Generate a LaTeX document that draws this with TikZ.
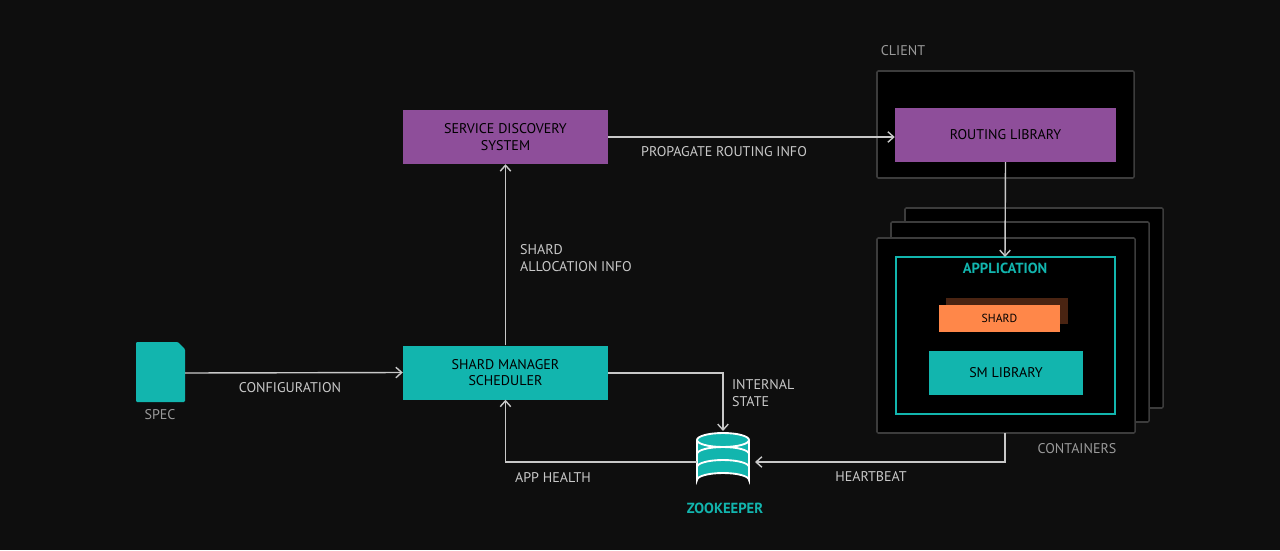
\documentclass[tikz,border=0pt]{standalone}
\usepackage{fontspec}
\setmainfont{PT Sans}
\usetikzlibrary{positioning,arrows.meta}
\definecolor{bgc}{HTML}{0E0E0E}
\definecolor{purp}{HTML}{8E4E9A}
\definecolor{teal}{HTML}{12B5AE}
\definecolor{orng}{HTML}{FF8749}
\definecolor{brwn}{HTML}{4A2412}
\definecolor{wire}{HTML}{C8C8C8}
\definecolor{frame}{HTML}{3C3C3C}
\definecolor{lbl}{HTML}{9A9A9A}

\tikzset{
  box/.style = {shape = rectangle, minimum width = 205*0.03cm, minimum height = 54*0.03cm, align = center, font = \fontsize{12}{14}\selectfont, text = black},
  frm/.style = {draw = frame, line width = 1.3pt, fill = black, rounded corners = 1pt},
  txt/.style = {text = wire, font = \fontsize{12}{14}\selectfont, align = left},
  link/.style = {draw = wire, line width = 1.2pt, -{Straight Barb[length=5pt,width=9pt]}}
}

\begin{document}
\begin{tikzpicture}[x = 0.03cm, y = -0.03cm]
\fill[bgc] (0,0) rectangle (1280,550);
\useasboundingbox (0,0) rectangle (1280,550);
% client and containers
\draw[frm] (877,71) rectangle (1134,178);
\draw[frm] (905,208) rectangle (1163,408);
\draw[frm] (891,222) rectangle (1149,422);
\draw[frm] (877,238) rectangle (1135,433);
\draw[teal, line width = 1.5pt] (896,257) rectangle (1115,414);
\fill[brwn] (946,298) rectangle (1068,324);
\node[box, fill = orng, minimum width = 121*0.03cm, minimum height = 27*0.03cm, font = \fontsize{10}{12}\selectfont] (shard) at (999.5,318.5) {SHARD};
\node[box, fill = teal, minimum width = 154*0.03cm, minimum height = 44*0.03cm] (smlib) at (1006,373) {SM LIBRARY};
\node[text = teal, font = \fontsize{12.5}{14}\selectfont\bfseries] (app) at (1005,268) {APPLICATION};
\coordinate (apptop) at (1005,257);
\coordinate (contbot) at (1005,433);
\node[text = lbl, font = \fontsize{12}{14}\selectfont] (client) at (903,51) {CLIENT};
\node[text = lbl, font = \fontsize{12}{14}\selectfont] (cont) at (1077,449) {CONTAINERS};
% main boxes
\node[box, fill = purp] (sds) at (505.5,137) {SERVICE DISCOVERY\\SYSTEM};
\node[box, fill = purp, minimum width = 221*0.03cm] (route) at (1005.5,135) {ROUTING LIBRARY};
\node[box, fill = teal] (sched) at (505.5,372.5) {SHARD MANAGER\\SCHEDULER};
% spec
\fill[teal, rounded corners = 1pt] (136,342) -- (178,342) -- (185,349) -- (185,402) -- (136,402) -- cycle;
\coordinate (spec) at (185,373);
\node[text = lbl, font = \fontsize{12}{14}\selectfont] (speclbl) at (160,415) {SPEC};
% zookeeper
\begin{scope}[line width = 1.6pt, draw = white]
\draw[fill = teal] (697,440) -- (697,480) arc[x radius = 26, y radius = 7, start angle = 180, end angle = 360] -- (749,440);
\draw[fill = teal] (723,440) ellipse[x radius = 26, y radius = 7];
\draw (697,454) arc[x radius = 26, y radius = 7, start angle = 180, end angle = 360];
\draw (697,467) arc[x radius = 26, y radius = 7, start angle = 180, end angle = 360];
\end{scope}
\coordinate (zktop) at (723,431);
\coordinate (zkright) at (755,462);
\coordinate (zkleft) at (697,462);
\node[text = teal, font = \fontsize{12.5}{14}\selectfont\bfseries] (zklbl) at (725,508) {ZOOKEEPER};
% connectors
\draw[link] (spec) -- (sched.west);
\draw[link] (sched.north) -- (sds.south);
\draw[link] (sds.east |- 0,137) -- (route.west |- 0,137);
\draw[link] (route.south) -- (apptop);
\draw[link] (sched.east |- 0,373) -| (zktop);
\draw[link] (contbot) |- (zkright);
\draw[link] (zkleft) -| (sched.south);
% labels
\node[txt] (l1) at (724,152) {PROPAGATE ROUTING INFO};
\node[txt, anchor = west] (l2) at (516,258) {SHARD\\ALLOCATION INFO};
\node[txt] (l3) at (290,388) {CONFIGURATION};
\node[txt, anchor = west] (l4) at (728,393) {INTERNAL\\STATE};
\node[txt] (l5) at (553,477) {APP HEALTH};
\node[txt] (l6) at (871,477) {HEARTBEAT};
\end{tikzpicture}
\end{document}
